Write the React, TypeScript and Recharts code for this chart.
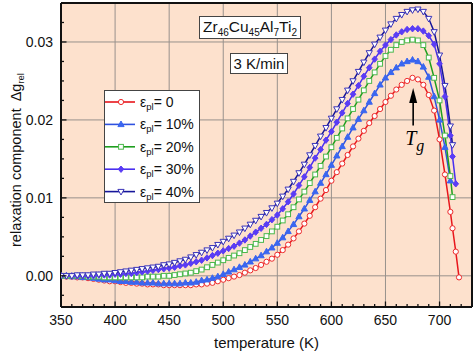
import React from 'react';
import { LineChart, Line, XAxis, YAxis, ReferenceArea, ReferenceLine, Legend, Label } from 'recharts';

// ---------- data ----------
const temperature = [
  350, 355, 360, 365, 370, 375, 380, 385, 390, 395,
  400, 405, 410, 415, 420, 425, 430, 435, 440, 445,
  450, 455, 460, 465, 470, 475, 480, 485, 490, 495,
  500, 505, 510, 515, 520, 525, 530, 535, 540, 545,
  550, 555, 560, 565, 570, 575, 580, 585, 590, 595,
  600, 605, 610, 615, 620, 625, 630, 635, 640, 645,
  650, 655, 660, 665, 670, 675, 680, 685, 690, 695,
  700, 705, 710, 712, 715, 718,
];

const eps0 = [
  0.0000, -0.0001, -0.0001, -0.0002, -0.0002, -0.0003, -0.0004, -0.0005, -0.0006, -0.0007,
  -0.0007, -0.0008, -0.0009, -0.0009, -0.0010, -0.0010, -0.0011, -0.0011, -0.0011, -0.0012,
  -0.0012, -0.0012, -0.0012, -0.0012, -0.0012, -0.0011, -0.0011, -0.0010, -0.0009, -0.0007,
  -0.0005, -0.0003, -0.0001, 0.0001, 0.0004, 0.0007, 0.0010, 0.0014, 0.0018, 0.0022,
  0.0027, 0.0033, 0.0040, 0.0048, 0.0057, 0.0067, 0.0077, 0.0088, 0.0099, 0.0110,
  0.0122, 0.0133, 0.0144, 0.0155, 0.0166, 0.0176, 0.0186, 0.0196, 0.0205, 0.0214,
  0.0223, 0.0231, 0.0239, 0.0245, 0.0250, 0.0254, 0.0252, 0.0245, 0.0232, 0.0212,
  0.0175, 0.0130, 0.0082, 0.0061, 0.0031, -0.0002,
];

const eps10 = [
  0.0000, 0.0000, -0.0001, -0.0001, -0.0002, -0.0002, -0.0003, -0.0004, -0.0005, -0.0005,
  -0.0006, -0.0007, -0.0007, -0.0008, -0.0008, -0.0009, -0.0009, -0.0009, -0.0010, -0.0010,
  -0.0010, -0.0010, -0.0010, -0.0009, -0.0009, -0.0008, -0.0006, -0.0005, -0.0003, -0.0001,
  0.0002, 0.0005, 0.0008, 0.0011, 0.0014, 0.0018, 0.0022, 0.0026, 0.0031, 0.0036,
  0.0042, 0.0049, 0.0057, 0.0066, 0.0076, 0.0086, 0.0097, 0.0108, 0.0119, 0.0130,
  0.0142, 0.0154, 0.0166, 0.0178, 0.0190, 0.0201, 0.0212, 0.0223, 0.0234, 0.0245,
  0.0254, 0.0261, 0.0267, 0.0272, 0.0275, 0.0277, 0.0275, 0.0268, 0.0255, 0.0230,
  0.0200, 0.0165, 0.0122, null, null, null,
];

const eps20 = [
  0.0000, 0.0000, 0.0000, 0.0000, 0.0000, -0.0001, -0.0001, -0.0001, -0.0002, -0.0002,
  -0.0002, -0.0002, -0.0002, -0.0002, -0.0002, -0.0002, -0.0001, -0.0001, -0.0001, 0.0000,
  0.0000, 0.0001, 0.0002, 0.0003, 0.0004, 0.0006, 0.0008, 0.0011, 0.0014, 0.0017,
  0.0020, 0.0023, 0.0026, 0.0029, 0.0033, 0.0037, 0.0041, 0.0046, 0.0051, 0.0057,
  0.0063, 0.0071, 0.0079, 0.0088, 0.0098, 0.0108, 0.0119, 0.0130, 0.0141, 0.0153,
  0.0165, 0.0177, 0.0189, 0.0202, 0.0214, 0.0226, 0.0238, 0.0250, 0.0261, 0.0272,
  0.0282, 0.0290, 0.0296, 0.0300, 0.0302, 0.0303, 0.0302, 0.0296, 0.0280, 0.0254,
  0.0225, 0.0180, 0.0128, 0.0101, null, null,
];

const eps30 = [
  0.0000, 0.0000, 0.0000, 0.0000, 0.0000, 0.0000, 0.0000, 0.0001, 0.0001, 0.0001,
  0.0002, 0.0002, 0.0003, 0.0003, 0.0004, 0.0005, 0.0006, 0.0007, 0.0008, 0.0009,
  0.0010, 0.0011, 0.0013, 0.0014, 0.0016, 0.0018, 0.0020, 0.0023, 0.0026, 0.0029,
  0.0032, 0.0035, 0.0038, 0.0042, 0.0046, 0.0051, 0.0056, 0.0061, 0.0066, 0.0072,
  0.0078, 0.0086, 0.0095, 0.0105, 0.0116, 0.0127, 0.0139, 0.0151, 0.0162, 0.0174,
  0.0185, 0.0197, 0.0209, 0.0221, 0.0233, 0.0244, 0.0256, 0.0267, 0.0278, 0.0288,
  0.0296, 0.0303, 0.0309, 0.0313, 0.0316, 0.0317, 0.0317, 0.0314, 0.0308, 0.0297,
  0.0272, 0.0230, 0.0180, 0.0153, 0.0118, null,
];

const eps40 = [
  0.0000, 0.0000, 0.0000, 0.0001, 0.0001, 0.0001, 0.0002, 0.0002, 0.0003, 0.0003,
  0.0004, 0.0005, 0.0006, 0.0007, 0.0008, 0.0009, 0.0010, 0.0011, 0.0012, 0.0014,
  0.0015, 0.0017, 0.0019, 0.0021, 0.0024, 0.0027, 0.0030, 0.0033, 0.0036, 0.0040,
  0.0044, 0.0048, 0.0052, 0.0056, 0.0061, 0.0066, 0.0071, 0.0076, 0.0081, 0.0087,
  0.0093, 0.0102, 0.0111, 0.0121, 0.0132, 0.0143, 0.0155, 0.0167, 0.0179, 0.0190,
  0.0202, 0.0214, 0.0226, 0.0238, 0.0250, 0.0262, 0.0274, 0.0286, 0.0297, 0.0306,
  0.0315, 0.0323, 0.0330, 0.0335, 0.0339, 0.0341, 0.0342, 0.0339, 0.0330, 0.0313,
  0.0283, 0.0244, 0.0192, 0.0168, null, null,
];

const seriesLabels = ['0', '10%', '20%', '30%', '40%'];

const xTicks = [
  350, 360, 370, 380, 390, 400, 410, 420, 430, 440, 450, 460, 470, 480, 490,
  500, 510, 520, 530, 540, 550, 560, 570, 580, 590, 600, 610, 620, 630, 640,
  650, 660, 670, 680, 690, 700, 710, 720,
];
const xMajorTicks = [350, 400, 450, 500, 550, 600, 650, 700];
const xGridValues = [400, 450, 500, 550, 600, 650, 700];

const yTicks = [
  -0.0025, 0, 0.0025, 0.005, 0.0075, 0.01, 0.0125, 0.015, 0.0175, 0.02,
  0.0225, 0.025, 0.0275, 0.03, 0.0325,
];
const yMajorTicks = [0, 0.01, 0.02, 0.03];
const yGridValues = [0, 0.01, 0.02, 0.03];

const xDomain = [350, 730];
const yDomain = [-0.004, 0.035];

const tgArrow = { t: 675.6, from: 0.0193, to: 0.0241 };

// ---------- table ----------
const data = temperature.map((t, i) => ({
  t,
  s0: eps0[i],
  s10: eps10[i],
  s20: eps20[i],
  s30: eps30[i],
  s40: eps40[i],
}));

const SANS = '"Liberation Sans", Arial, Helvetica, sans-serif';
const SERIF = '"Liberation Serif", "Times New Roman", serif';
const GRID = '#98918c';
const PLOT_BG = '#fde1cd';

type Shape = 'circle' | 'triUp' | 'square' | 'diamond' | 'triDown';

const series: { key: string; label: string; line: string; mark: string; shape: Shape; filled: boolean }[] = [
  { key: 's0', label: seriesLabels[0], line: '#e8161c', mark: '#ee2a2a', shape: 'circle', filled: false },
  { key: 's10', label: seriesLabels[1], line: '#2f52e0', mark: '#3a66f0', shape: 'triUp', filled: true },
  { key: 's20', label: seriesLabels[2], line: '#1f9e1f', mark: '#4cb84c', shape: 'square', filled: false },
  { key: 's30', label: seriesLabels[3], line: '#4a2ff0', mark: '#5a3cf5', shape: 'diamond', filled: true },
  { key: 's40', label: seriesLabels[4], line: '#16169a', mark: '#3a33b8', shape: 'triDown', filled: false },
];

function Marker({ cx, cy, shape, color, filled }: { cx: number; cy: number; shape: Shape; color: string; filled: boolean }) {
  const fill = filled ? color : '#ffffff';
  const sw = 1;
  switch (shape) {
    case 'circle':
      return <circle cx={cx} cy={cy} r={2.6} fill={fill} stroke={color} strokeWidth={sw} />;
    case 'triUp':
      return <polygon points={`${cx},${cy - 3.4} ${cx - 3.1},${cy + 2.2} ${cx + 3.1},${cy + 2.2}`} fill={fill} stroke={color} strokeWidth={sw} />;
    case 'square':
      return <rect x={cx - 2.4} y={cy - 2.4} width={4.8} height={4.8} fill={fill} stroke={color} strokeWidth={sw} />;
    case 'diamond':
      return <polygon points={`${cx},${cy - 3.2} ${cx + 2.8},${cy} ${cx},${cy + 3.2} ${cx - 2.8},${cy}`} fill={fill} stroke={color} strokeWidth={sw} />;
    case 'triDown':
    default:
      return <polygon points={`${cx - 3.1},${cy - 2.2} ${cx + 3.1},${cy - 2.2} ${cx},${cy + 3.4}`} fill={fill} stroke={color} strokeWidth={sw} />;
  }
}

const makeDot = (s: typeof series[number]) => (props: any) => {
  const { cx, cy, index } = props;
  const k = `${s.key}-${index}`;
  if (cx == null || cy == null || Number.isNaN(cx) || Number.isNaN(cy) || props.value == null) return <g key={k} />;
  return (
    <g key={k}>
      <Marker cx={cx} cy={cy} shape={s.shape} color={s.mark} filled={s.filled} />
    </g>
  );
};

// Plot background with grid; the area spans the full axis domains, so values map linearly onto it.
const PlotBackground = (p: any) => {
  const { x, y, width, height } = p;
  if ([x, y, width, height].some((v) => v == null || Number.isNaN(v))) return <g />;
  const px = (v: number) => x + ((v - xDomain[0]) / (xDomain[1] - xDomain[0])) * width;
  const py = (v: number) => y + ((yDomain[1] - v) / (yDomain[1] - yDomain[0])) * height;
  return (
    <g>
      <rect x={x} y={y} width={width} height={height} fill={PLOT_BG} />
      {xGridValues.map((v) => (
        <line key={`vx${v}`} x1={px(v)} x2={px(v)} y1={y} y2={y + height} stroke={GRID} strokeWidth={1} />
      ))}
      {yGridValues.map((v) => (
        <line key={`hy${v}`} x1={x} x2={x + width} y1={py(v)} y2={py(v)} stroke={GRID} strokeWidth={1} />
      ))}
    </g>
  );
};

const XTick = (props: any) => {
  const { x, y, payload } = props;
  const v = payload.value;
  const major = xMajorTicks.includes(v);
  return (
    <g>
      <line x1={x} x2={x} y1={y} y2={y - (major ? 5.5 : 3)} stroke="#111" strokeWidth={1.3} />
      {major && (
        <text x={x} y={y + 18} textAnchor="middle" fontSize={14} fill="#111" fontFamily={SANS}>
          {v}
        </text>
      )}
    </g>
  );
};

const YTick = (props: any) => {
  const { x, y, payload } = props;
  const v = payload.value;
  const major = yMajorTicks.some((m) => Math.abs(m - v) < 1e-9);
  return (
    <g>
      <line x1={x} x2={x + (major ? 5.5 : 3)} y1={y} y2={y} stroke="#111" strokeWidth={1.3} />
      {major && (
        <text x={x - 8} y={y + 5} textAnchor="end" fontSize={14} fill="#111" fontFamily={SANS}>
          {v.toFixed(2)}
        </text>
      )}
    </g>
  );
};

const XAxisTitle = (props: any) => {
  const vb = props.viewBox || { x: 61, y: 307, width: 411, height: 47 };
  return (
    <text x={vb.x + vb.width / 2} y={vb.y + 41} textAnchor="middle" fontSize={15} fill="#111" fontFamily={SANS}>
      temperature (K)
    </text>
  );
};

const ArrowShape = (p: any) => {
  const { x1, y1, x2, y2 } = p;
  if ([x1, y1, x2, y2].some((v) => v == null || Number.isNaN(v))) return <g />;
  const top = Math.min(y1, y2);
  const bottom = Math.max(y1, y2);
  const x = x1;
  return (
    <g>
      <line x1={x} x2={x} y1={bottom} y2={top + 12} stroke="#000" strokeWidth={1.6} />
      <polygon points={`${x},${top} ${x - 4},${top + 15} ${x + 4},${top + 15}`} fill="#000" />
      <text x={x - 8} y={bottom + 20} fontFamily={SERIF} fontStyle="italic" fontSize={20} fill="#000">
        T<tspan fontSize={16} dy={6}>g</tspan>
      </text>
    </g>
  );
};

const LegendBox = () => {
  const rowH = 22.4;
  return (
    <div
      style={{
        width: 96,
        height: 113,
        boxSizing: 'border-box',
        border: '1px solid #444',
        background: '#ffffff',
      }}
    >
      <svg width={94} height={111} style={{ display: 'block' }}>
        {series.map((s, i) => {
          const cy = 11 + i * rowH;
          return (
            <g key={s.key}>
              <line x1={0} x2={30} y1={cy} y2={cy} stroke={s.line} strokeWidth={1.6} />
              <Marker cx={16} cy={cy} shape={s.shape} color={s.mark} filled={s.filled} />
              <text x={35} y={cy + 5} fontSize={14} fill="#111" fontFamily={SANS}>
                ε<tspan fontSize={9.5} dy={3}>pl</tspan>
                <tspan dy={-3}>{`= ${s.label}`}</tspan>
              </text>
            </g>
          );
        })}
      </svg>
    </div>
  );
};

const boxStyle: React.CSSProperties = {
  position: 'absolute',
  boxSizing: 'border-box',
  border: '1px solid #444',
  background: '#ffffff',
  fontFamily: SANS,
  color: '#111',
  whiteSpace: 'nowrap',
  textAlign: 'center',
};

const Sub = ({ children }: { children: React.ReactNode }) => (
  <span style={{ fontSize: 10, position: 'relative', top: 4 }}>{children}</span>
);

export default function App() {
  return (
    <div style={{ position: 'absolute', left: 0, top: 0, width: 474, height: 354, background: '#ffffff' }}>
      <LineChart width={474} height={354} data={data} margin={{ top: 3, right: 2, left: 0, bottom: 0 }}>
        <XAxis
          dataKey="t"
          type="number"
          domain={xDomain}
          ticks={xTicks}
          interval={0}
          allowDataOverflow
          tick={<XTick />}
          tickLine={false}
          tickSize={0}
          tickMargin={0}
          height={47}
          axisLine={{ stroke: '#111', strokeWidth: 2 }}
        >
          <Label content={<XAxisTitle />} />
        </XAxis>
        <YAxis
          type="number"
          domain={yDomain}
          ticks={yTicks}
          interval={0}
          allowDataOverflow
          tick={<YTick />}
          tickLine={false}
          tickSize={0}
          tickMargin={0}
          width={61}
          axisLine={{ stroke: '#111', strokeWidth: 2 }}
        />
        <ReferenceArea
          x1={xDomain[0]}
          x2={xDomain[1]}
          y1={yDomain[0]}
          y2={yDomain[1]}
          shape={<PlotBackground />}
        />
        <ReferenceLine y={yDomain[1]} stroke="#111" strokeWidth={2} />
        <ReferenceLine x={xDomain[1]} stroke="#111" strokeWidth={2} />
        {series.map((s) => (
          <Line
            key={s.key}
            dataKey={s.key}
            type="linear"
            stroke={s.line}
            strokeWidth={1.5}
            dot={makeDot(s)}
            activeDot={false}
            connectNulls={false}
            isAnimationActive={false}
          />
        ))}
        <ReferenceLine
          segment={[
            { x: tgArrow.t, y: tgArrow.from },
            { x: tgArrow.t, y: tgArrow.to },
          ]}
          shape={<ArrowShape />}
        />
        <Legend
          content={<LegendBox />}
          layout="vertical"
          align="center"
          verticalAlign="middle"
          wrapperStyle={{ left: 104, top: 90, width: 96, height: 113 }}
        />
      </LineChart>
      <svg width={40} height={354} style={{ position: 'absolute', left: 0, top: 0, pointerEvents: 'none' }}>
        <text
          transform="rotate(-90 16 160)"
          x={16}
          y={160}
          textAnchor="middle"
          dominantBaseline="central"
          fontSize={14.5}
          fill="#111"
          fontFamily={SANS}
        >
          relaxation component
          <tspan dx={7}>Δg</tspan>
          <tspan fontSize={9.5} dy={4}>rel</tspan>
        </text>
      </svg>
      <div style={{ ...boxStyle, left: 199, top: 16, width: 102, height: 23, fontSize: 15.5, lineHeight: '19px' }}>
        Zr<Sub>46</Sub>Cu<Sub>45</Sub>Al<Sub>7</Sub>Ti<Sub>2</Sub>
      </div>
      <div style={{ ...boxStyle, left: 230, top: 53, width: 58, height: 21, fontSize: 15, lineHeight: '19px' }}>
        3 K/min
      </div>
    </div>
  );
}
